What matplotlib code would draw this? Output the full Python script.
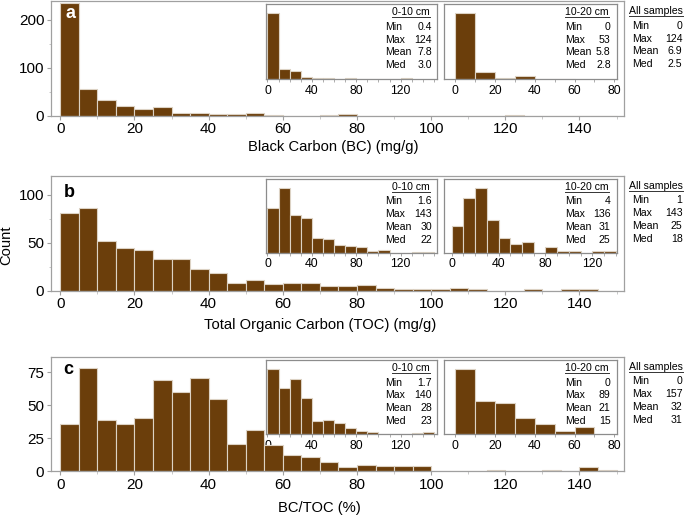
import matplotlib
matplotlib.use('Agg')
import matplotlib.pyplot as plt
import numpy as np
from matplotlib.lines import Line2D
from matplotlib.ticker import MultipleLocator, FixedLocator

W, H = 685, 517
plt.rcParams['font.family'] = ['Liberation Sans', 'DejaVu Sans']

BROWN = '#6b3e0b'
EDGE = '#dcd2c4'
FRAME = '#a0a0a0'

# ---------------- data ----------------
main_edges = list(range(0, 155, 5))          # 5-unit bins, 0..150
inset_edges = list(range(0, 160, 10))        # 10-unit bins

bc_counts = [235, 56, 32, 20, 15, 19, 6, 5, 4, 4, 5, 2, 0, 0, 2, 4,
             0, 0, 0, 0, 0, 0, 0, 0, 2, 0, 0, 0, 0, 0]
toc_counts = [81, 86, 52, 44, 42, 33, 33, 23, 18, 8, 11, 7, 8, 8, 5, 5,
              6, 3, 2, 2, 2, 3, 2, 0, 0, 2, 0, 2, 2, 0]
bctoc_counts = [36, 78, 39, 36, 40, 69, 60, 71, 55, 21, 31, 20, 12, 11, 7, 3,
                5, 4, 4, 4, 0, 0, 0, 1, 0, 0, 1, 0, 3, 1]

bc_top_counts = [132, 20, 17, 4, 2, 2, 0, 2, 0, 0, 0, 0, 2]
bc_sub_counts = [133, 15, 3, 6, 1, 1]
toc_top_counts = [45, 65, 38, 35, 15, 14, 8, 7, 6, 2, 3, 0, 0, 1, 1]
toc_sub_counts = [27, 55, 65, 33, 15, 9, 11, 0, 6, 2, 2, 0, 2, 2]
bctoc_top_counts = [65, 46, 55, 36, 13, 14, 11, 6, 3, 2, 0, 0, 0, 1, 2]
bctoc_sub_counts = [65, 33, 31, 16, 10, 3, 7]

stat_names = ['Min', 'Max', 'Mean', 'Med']
bc_top_stats = ['0.4', '124', '7.8', '3.0']
bc_sub_stats = ['0', '53', '5.8', '2.8']
bc_all_stats = ['0', '124', '6.9', '2.5']
toc_top_stats = ['1.6', '143', '30', '22']
toc_sub_stats = ['4', '136', '31', '25']
toc_all_stats = ['1', '143', '25', '18']
bctoc_top_stats = ['1.7', '140', '28', '23']
bctoc_sub_stats = ['0', '89', '21', '15']
bctoc_all_stats = ['0', '157', '32', '31']

x_labels = ['Black Carbon (BC) (mg/g)', 'Total Organic Carbon (TOC) (mg/g)', 'BC/TOC (%)']
panel_letters = ['a', 'b', 'c']
main_yticks = [[0, 100, 200], [0, 50, 100], [0, 25, 50, 75]]
main_xticks = [0, 20, 40, 60, 80, 100, 120, 140]

# ---------------- layout ----------------
fig = plt.figure(figsize=(6.85, 5.17), dpi=100)


def add_ax_px(x0, y0, x1, y1, **kw):
    return fig.add_axes([x0 / W, 1 - y1 / H, (x1 - x0) / W, (y1 - y0) / H], **kw)


def ftext(x, y, s, **kw):
    return fig.text(x / W, 1 - y / H, s, **kw)


def frame(ax, color=FRAME, lw=0.9):
    for sp in ax.spines.values():
        sp.set_color(color)
        sp.set_linewidth(lw)


underline_jobs = []
STAT_FS = 7.6


def stats_block(x_lab, x_val, x_head, head_ha, y_top, header, values):
    t = ftext(x_head, y_top + 7.7, header, ha=head_ha, va='center', fontsize=STAT_FS)
    underline_jobs.append((t, y_top + 7.7 + 4.8))
    for i, (n, v) in enumerate(zip(stat_names, values)):
        yy = y_top + 22.5 + i * 12.8
        ftext(x_lab, yy, n, ha='left', va='center', fontsize=STAT_FS)
        ftext(x_val, yy, v, ha='right', va='center', fontsize=STAT_FS)


main_boxes = [(0.5, 115.7), (175.7, 290.7), (356.7, 471.3)]
main_ylims = [240.7, 119.8, 86.8]
minor_y = [50, 25, None]
inset_boxes = [(4.3, 79.0), (179.0, 252.7), (360.0, 434.0)]
inset_ylims = [(150, 150), (74, 74), (74, 74)]
sub_xlims = [(-5.6, 81.2), (-6.3, 140.8), (-5.6, 81.2)]
sub_xticks = [[0, 20, 40, 60, 80], [0, 40, 80, 120], [0, 20, 40, 60, 80]]
letter_pos = [(70, 13.7), (69.3, 192.3), (68.7, 370)]
letter_col = ['white', 'black', 'black']
xlabel_pos = [(333, 147.3), (320.5, 325.5), (319, 508.3)]

mains = [bc_counts, toc_counts, bctoc_counts]
tops = [bc_top_counts, toc_top_counts, bctoc_top_counts]
subs = [bc_sub_counts, toc_sub_counts, bctoc_sub_counts]
top_stats = [bc_top_stats, toc_top_stats, bctoc_top_stats]
sub_stats = [bc_sub_stats, toc_sub_stats, bctoc_sub_stats]
all_stats = [bc_all_stats, toc_all_stats, bctoc_all_stats]

for p in range(3):
    y0, y1 = main_boxes[p]
    ax = add_ax_px(51, y0, 624, y1, zorder=2)
    ax.patch.set_alpha(0)
    counts = mains[p]
    ax.bar(main_edges[:-1], counts, width=5, align='edge', color=BROWN,
           edgecolor=EDGE, linewidth=0.8)
    ax.set_xlim(-2.5, 152)
    ax.set_ylim(0, main_ylims[p])
    ax.set_xticks(main_xticks)
    ax.xaxis.set_minor_locator(MultipleLocator(10))
    ax.set_yticks(main_yticks[p])
    if minor_y[p]:
        ax.yaxis.set_minor_locator(MultipleLocator(minor_y[p]))
    ax.tick_params(which='major', direction='out', length=3, width=0.8,
                   color=FRAME, labelsize=11, pad=1.8)
    ax.tick_params(which='minor', direction='out', length=1.8, width=0.6,
                   color='#c0c0c0')
    frame(ax)

    # insets
    iy0, iy1 = inset_boxes[p]
    a1 = add_ax_px(265.7, iy0, 437.3, iy1, zorder=1)
    a1.bar(inset_edges[:len(tops[p])], tops[p], width=10, align='edge',
           color=BROWN, edgecolor=EDGE, linewidth=0.8)
    a1.set_xlim(-1.6, 153)
    a1.set_ylim(0, inset_ylims[p][0])
    a1.set_xticks([0, 40, 80, 120])
    a1.xaxis.set_minor_locator(MultipleLocator(10))
    a1.set_yticks([])

    a2 = add_ax_px(444.3, iy0, 616.7, iy1, zorder=1)
    a2.bar(inset_edges[:len(subs[p])], subs[p], width=10, align='edge',
           color=BROWN, edgecolor=EDGE, linewidth=0.8)
    a2.set_xlim(*sub_xlims[p])
    a2.set_ylim(0, inset_ylims[p][1])
    a2.set_xticks(sub_xticks[p])
    a2.xaxis.set_minor_locator(MultipleLocator(10))
    a2.set_yticks([])
    for a in (a1, a2):
        a.tick_params(which='major', direction='out', length=2.5, width=0.7,
                      color=FRAME, labelsize=8.8, pad=1.5)
        a.tick_params(which='minor', direction='out', length=2.0, width=0.6,
                      color=FRAME)
        frame(a, '#8c8c8c', 0.9)

    stats_block(437.3 - 51.7, 437.3 - 5.3, 437.3 - 7.7, 'right', iy0,
                '0-10 cm', top_stats[p])
    stats_block(616.7 - 51.7, 616.7 - 6.0, 616.7 - 7.7, 'right', iy0,
                '10-20 cm', sub_stats[p])
    stats_block(632.0, 682.5, 629, 'left', iy0 - 1.0, 'All samples', all_stats[p])

    lx, ly = letter_pos[p]
    ftext(lx, ly, panel_letters[p], ha='center', va='center', fontsize=13,
          fontweight='bold', color=letter_col[p], zorder=5)
    xx, yy = xlabel_pos[p]
    ftext(xx, yy, x_labels[p], ha='center', va='center', fontsize=10.6)

ftext(6.7, 245, 'Count', rotation=90, ha='center', va='center', fontsize=10.6)

# underlines for stats headers
fig.canvas.draw()
for t, yline in underline_jobs:
    bb = t.get_window_extent()
    fig.add_artist(Line2D([bb.x0 / W, bb.x1 / W], [1 - yline / H, 1 - yline / H],
                          transform=fig.transFigure, color='#333333', lw=0.7))

fig.savefig('out.png', dpi=100, facecolor='white')
